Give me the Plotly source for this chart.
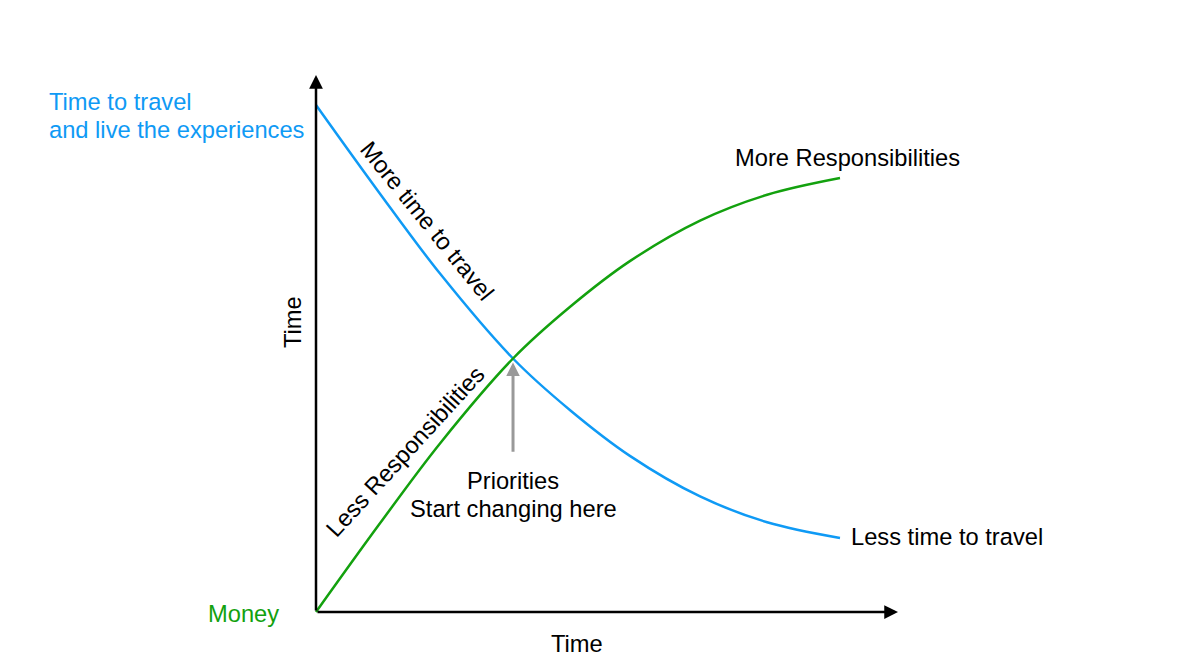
import plotly.graph_objects as go

# ---- data (arbitrary units: x = time 0..100, y = level 0..100) ----
time_x = [0, 12.0, 23.7, 37.6, 48.5, 59.9, 73.3, 86.1, 100]
travel_time = [100, 82.8, 66.7, 50.0, 39.8, 30.8, 22.8, 17.7, 14.6]
responsibilities = [0, 17.2, 33.3, 50.0, 60.2, 69.2, 77.2, 82.3, 85.6]

BLUE = "#0f9af5"
GREEN = "#13a10e"
FONT = "Liberation Sans, Arial, Helvetica, sans-serif"
FS = 23.7

W, H = 1200, 667
# pixel geometry of the drawing
OX, OY = 316, 612          # origin in pixels
SX, SY = 5.24, 5.07        # pixels per data unit
xr = [-OX / SX, (W - OX) / SX]
yr = [-(H - OY) / SY, OY / SY]


def px(p):
    return p / W


def py(p):
    return 1 - p / H


fig = go.Figure()
fig.add_trace(go.Scatter(x=time_x, y=travel_time, mode="lines",
                         line=dict(color=BLUE, width=2.5, shape="spline", smoothing=1.0),
                         hoverinfo="skip", showlegend=False))
fig.add_trace(go.Scatter(x=time_x, y=responsibilities, mode="lines",
                         line=dict(color=GREEN, width=2.5, shape="spline", smoothing=1.0),
                         hoverinfo="skip", showlegend=False))

ann = []
# axes with arrows
x_tip = (898 - OX) / SX
y_tip = (OY - 75) / SY
ann.append(dict(x=0, y=y_tip, ax=0, ay=0, xref="x", yref="y", axref="x", ayref="y",
                text="", showarrow=True, arrowhead=2, arrowsize=1.1, arrowwidth=2.5,
                arrowcolor="black", standoff=0, startstandoff=0))
ann.append(dict(x=x_tip, y=0, ax=0, ay=0, xref="x", yref="y", axref="x", ayref="y",
                text="", showarrow=True, arrowhead=2, arrowsize=1.1, arrowwidth=2.5,
                arrowcolor="black", standoff=0, startstandoff=0))

# "priorities" arrow pointing at the crossing
cross_x = time_x[3]
cross_y = travel_time[3]
ann.append(dict(x=cross_x, y=cross_y - 0.8, ax=cross_x, ay=cross_y - 18.7,
                xref="x", yref="y", axref="x", ayref="y", text="", showarrow=True,
                arrowhead=2, arrowsize=0.9, arrowwidth=3, arrowcolor="#999999"))


def label(text, x, y, color="black", xanchor="center", angle=0):
    ann.append(dict(text=text, x=px(x), y=py(y), xref="paper", yref="paper",
                    showarrow=False, xanchor=xanchor, yanchor="middle",
                    textangle=angle, font=dict(family=FONT, size=FS, color=color)))


label("Time to travel", 47, 102, BLUE, "left")
label("and live the experiences", 47, 130, BLUE, "left")
label("Money", 281, 614, GREEN, "right")
label("Time", 293, 322, angle=-90)
label("Time", 577, 644)
label("More Responsibilities", 847, 158)
label("Less time to travel", 849, 537, xanchor="left")
label("Priorities", 513, 481)
label("Start changing here", 513, 509)
label("More time to travel", 427, 221, angle=51)
label("Less Responsibilities", 405, 452, angle=-47.5)

fig.update_layout(
    width=W, height=H,
    margin=dict(l=0, r=0, t=0, b=0),
    paper_bgcolor="white", plot_bgcolor="white",
    xaxis=dict(range=xr, visible=False, fixedrange=True),
    yaxis=dict(range=yr, visible=False, fixedrange=True),
    annotations=ann,
    font=dict(family=FONT),
)

fig.write_html("out.html")
